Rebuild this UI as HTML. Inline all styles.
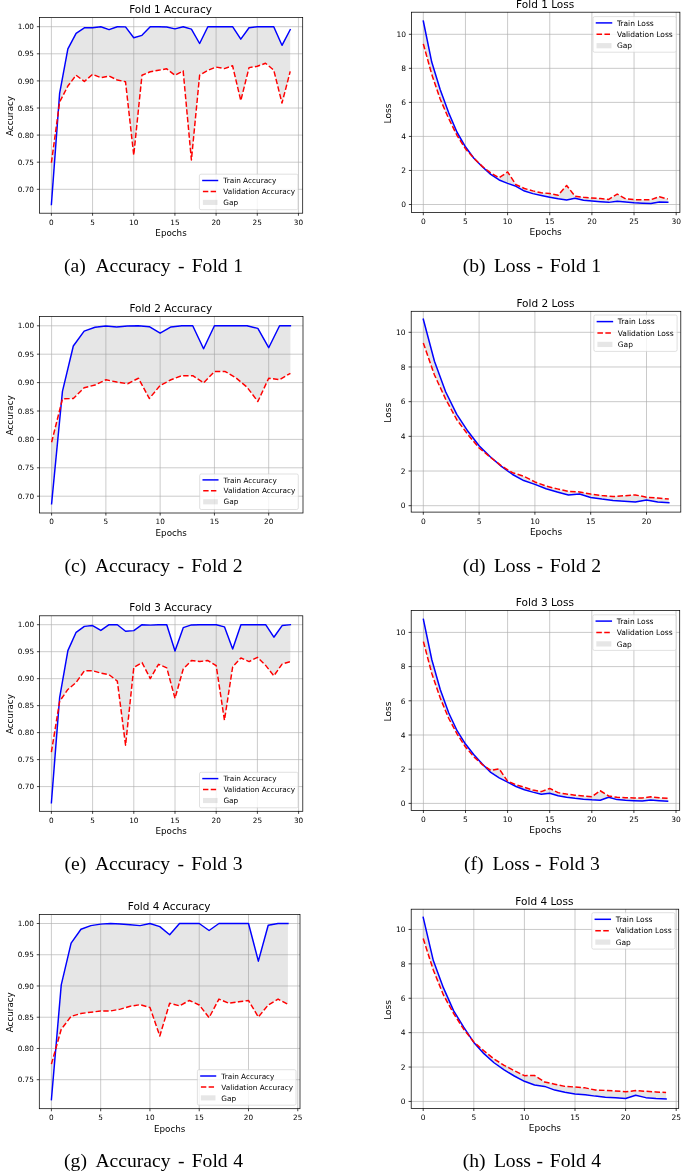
<!DOCTYPE html>
<html lang="en">
<head>
<meta charset="utf-8">
<title>Training curves per fold</title>
<style>
html,body{margin:0;padding:0;background:#fff;}
body{width:685px;height:1172px;overflow:hidden;}
svg{display:block;}
</style>
</head>
<body>
<svg width="685" height="1172" viewBox="0 0 685 1172">
<rect width="685" height="1172" fill="#fff"/>
<defs><filter id="soft" x="0" y="0" width="100%" height="100%" filterUnits="userSpaceOnUse"><feGaussianBlur stdDeviation="0.32"/></filter></defs>
<g filter="url(#soft)">
<g font-family='"DejaVu Sans","Liberation Sans",sans-serif' fill="#000">
<clipPath id="cp0"><rect x="39.4" y="17.6" width="263.3" height="195.6"/></clipPath>
<path d="M51.4 17.6V213.2M92.57 17.6V213.2M133.75 17.6V213.2M174.92 17.6V213.2M216.1 17.6V213.2M257.27 17.6V213.2M298.45 17.6V213.2M39.4 189.3H302.7M39.4 162.2H302.7M39.4 135.1H302.7M39.4 108H302.7M39.4 80.9H302.7M39.4 53.8H302.7M39.4 26.7H302.7" stroke="#b0b0b0" stroke-width="0.65" fill="none"/>
<polygon points="51.4,204.48 59.63,93.37 67.87,48.92 76.1,33.31 84.34,27.78 92.57,27.78 100.81,26.7 109.04,29.68 117.28,26.7 125.51,26.86 133.75,37.7 141.98,35.37 150.22,26.7 158.45,26.7 166.69,26.97 174.92,28.87 183.16,26.7 191.4,29.14 199.63,43.5 207.86,26.7 216.1,26.7 224.34,26.7 232.57,26.7 240.8,39.17 249.04,27.78 257.27,26.7 265.51,26.7 273.74,26.7 281.98,45.29 290.21,29.68 290.21,71.42 281.98,103.12 273.74,70.06 265.51,63.28 257.27,66.27 249.04,67.62 240.8,100.68 232.57,65.72 224.34,68.6 216.1,67.08 207.86,70.28 199.63,75.21 191.4,160.03 183.16,70.87 174.92,75.21 166.69,68.81 158.45,70.28 150.22,71.79 141.98,75.21 133.75,155.15 125.51,81.71 117.28,79.98 109.04,76.02 100.81,77.65 92.57,74.4 84.34,81.44 76.1,75.21 67.87,86.05 59.63,102.04 51.4,162.74" fill="#808080" fill-opacity="0.2" clip-path="url(#cp0)"/>
<polyline points="51.4,204.48 59.63,93.37 67.87,48.92 76.1,33.31 84.34,27.78 92.57,27.78 100.81,26.7 109.04,29.68 117.28,26.7 125.51,26.86 133.75,37.7 141.98,35.37 150.22,26.7 158.45,26.7 166.69,26.97 174.92,28.87 183.16,26.7 191.4,29.14 199.63,43.5 207.86,26.7 216.1,26.7 224.34,26.7 232.57,26.7 240.8,39.17 249.04,27.78 257.27,26.7 265.51,26.7 273.74,26.7 281.98,45.29 290.21,29.68" fill="none" stroke="#0000ff" stroke-width="1.46" stroke-linejoin="round" stroke-linecap="square"/>
<polyline points="51.4,162.74 59.63,102.04 67.87,86.05 76.1,75.21 84.34,81.44 92.57,74.4 100.81,77.65 109.04,76.02 117.28,79.98 125.51,81.71 133.75,155.15 141.98,75.21 150.22,71.79 158.45,70.28 166.69,68.81 174.92,75.21 183.16,70.87 191.4,160.03 199.63,75.21 207.86,70.28 216.1,67.08 224.34,68.6 232.57,65.72 240.8,100.68 249.04,67.62 257.27,66.27 265.51,63.28 273.74,70.06 281.98,103.12 290.21,71.42" fill="none" stroke="#ff0000" stroke-width="1.46" stroke-linejoin="round" stroke-dasharray="5.4 2.34"/>
<path d="M51.4 213.2v2.55M92.57 213.2v2.55M133.75 213.2v2.55M174.92 213.2v2.55M216.1 213.2v2.55M257.27 213.2v2.55M298.45 213.2v2.55M39.4 189.3h-2.55M39.4 162.2h-2.55M39.4 135.1h-2.55M39.4 108h-2.55M39.4 80.9h-2.55M39.4 53.8h-2.55M39.4 26.7h-2.55" stroke="#000" stroke-width="0.73" fill="none"/>
<rect x="39.4" y="17.6" width="263.3" height="195.6" fill="none" stroke="#000" stroke-width="0.73"/>
<g font-size="7.3">
<text x="51.4" y="224.6" text-anchor="middle">0</text>
<text x="92.57" y="224.6" text-anchor="middle">5</text>
<text x="133.75" y="224.6" text-anchor="middle">10</text>
<text x="174.92" y="224.6" text-anchor="middle">15</text>
<text x="216.1" y="224.6" text-anchor="middle">20</text>
<text x="257.27" y="224.6" text-anchor="middle">25</text>
<text x="298.45" y="224.6" text-anchor="middle">30</text>
<text x="33.99" y="191.93" text-anchor="end">0.70</text>
<text x="33.99" y="164.83" text-anchor="end">0.75</text>
<text x="33.99" y="137.73" text-anchor="end">0.80</text>
<text x="33.99" y="110.63" text-anchor="end">0.85</text>
<text x="33.99" y="83.53" text-anchor="end">0.90</text>
<text x="33.99" y="56.43" text-anchor="end">0.95</text>
<text x="33.99" y="29.33" text-anchor="end">1.00</text>
</g>
<text x="171.05" y="236" font-size="8.76" text-anchor="middle">Epochs</text>
<text transform="translate(12.6 116) rotate(-90)" font-size="8.76" text-anchor="middle">Accuracy</text>
<text x="170.55" y="13.2" font-size="10.47" text-anchor="middle">Fold 1 Accuracy</text>
<rect x="199.4" y="174.2" width="98.6" height="35.5" rx="1.61" fill="#fff" fill-opacity="0.8" stroke="#ccc" stroke-opacity="0.8" stroke-width="0.73"/>
<path d="M202.9 180.5H217.5" stroke="#0000ff" stroke-width="1.46" stroke-linecap="square"/>
<path d="M202.9 191.45H217.5" stroke="#ff0000" stroke-width="1.46" stroke-dasharray="5.4 2.34"/>
<rect x="202.9" y="199.84" width="14.6" height="5.11" fill="#808080" fill-opacity="0.2"/>
<g font-size="7.3">
<text x="223.3" y="183.13">Train Accuracy</text>
<text x="223.3" y="194.08">Validation Accuracy</text>
<text x="223.3" y="205.03">Gap</text>
</g>
</g>
<g font-family='"DejaVu Sans","Liberation Sans",sans-serif' fill="#000">
<clipPath id="cp1"><rect x="411.5" y="12.2" width="268.4" height="200.4"/></clipPath>
<path d="M423.3 12.2V212.6M465.45 12.2V212.6M507.6 12.2V212.6M549.75 12.2V212.6M591.9 12.2V212.6M634.05 12.2V212.6M676.2 12.2V212.6M411.5 204.5H679.9M411.5 170.46H679.9M411.5 136.42H679.9M411.5 102.38H679.9M411.5 68.34H679.9M411.5 34.3H679.9" stroke="#b0b0b0" stroke-width="0.67" fill="none"/>
<polygon points="423.3,21.02 431.73,62.04 440.16,89.44 448.59,112.59 457.02,132.25 465.45,146.8 473.88,158.21 482.31,166.72 490.74,174.37 499.17,179.99 507.6,183.4 516.03,186.29 524.46,191.05 532.89,193.61 541.32,195.48 549.75,197.18 558.18,198.8 566.61,199.9 575.04,198.2 583.47,200.25 591.9,201.1 600.33,201.78 608.76,202.37 617.19,201.27 625.62,202.12 634.05,202.8 642.48,203.22 650.91,203.48 659.34,201.95 667.77,202.12 667.77,199.05 659.34,196.67 650.91,199.65 642.48,199.9 634.05,199.65 625.62,198.8 617.19,194.12 608.76,199.39 600.33,198.54 591.9,197.95 583.47,197.35 575.04,196.25 566.61,185.44 558.18,195.14 549.75,193.52 541.32,192.76 532.89,190.88 524.46,188.5 516.03,184.76 507.6,171.99 499.17,177.78 490.74,173.01 482.31,166.38 473.88,158.21 465.45,148.67 457.02,135.4 448.59,118.38 440.16,98.98 431.73,74.3 423.3,43.83" fill="#808080" fill-opacity="0.2" clip-path="url(#cp1)"/>
<polyline points="423.3,21.02 431.73,62.04 440.16,89.44 448.59,112.59 457.02,132.25 465.45,146.8 473.88,158.21 482.31,166.72 490.74,174.37 499.17,179.99 507.6,183.4 516.03,186.29 524.46,191.05 532.89,193.61 541.32,195.48 549.75,197.18 558.18,198.8 566.61,199.9 575.04,198.2 583.47,200.25 591.9,201.1 600.33,201.78 608.76,202.37 617.19,201.27 625.62,202.12 634.05,202.8 642.48,203.22 650.91,203.48 659.34,201.95 667.77,202.12" fill="none" stroke="#0000ff" stroke-width="1.5" stroke-linejoin="round" stroke-linecap="square"/>
<polyline points="423.3,43.83 431.73,74.3 440.16,98.98 448.59,118.38 457.02,135.4 465.45,148.67 473.88,158.21 482.31,166.38 490.74,173.01 499.17,177.78 507.6,171.99 516.03,184.76 524.46,188.5 532.89,190.88 541.32,192.76 549.75,193.52 558.18,195.14 566.61,185.44 575.04,196.25 583.47,197.35 591.9,197.95 600.33,198.54 608.76,199.39 617.19,194.12 625.62,198.8 634.05,199.65 642.48,199.9 650.91,199.65 659.34,196.67 667.77,199.05" fill="none" stroke="#ff0000" stroke-width="1.5" stroke-linejoin="round" stroke-dasharray="5.55 2.4"/>
<path d="M423.3 212.6v2.62M465.45 212.6v2.62M507.6 212.6v2.62M549.75 212.6v2.62M591.9 212.6v2.62M634.05 212.6v2.62M676.2 212.6v2.62M411.5 204.5h-2.62M411.5 170.46h-2.62M411.5 136.42h-2.62M411.5 102.38h-2.62M411.5 68.34h-2.62M411.5 34.3h-2.62" stroke="#000" stroke-width="0.75" fill="none"/>
<rect x="411.5" y="12.2" width="268.4" height="200.4" fill="none" stroke="#000" stroke-width="0.75"/>
<g font-size="7.5">
<text x="423.3" y="224" text-anchor="middle">0</text>
<text x="465.45" y="224" text-anchor="middle">5</text>
<text x="507.6" y="224" text-anchor="middle">10</text>
<text x="549.75" y="224" text-anchor="middle">15</text>
<text x="591.9" y="224" text-anchor="middle">20</text>
<text x="634.05" y="224" text-anchor="middle">25</text>
<text x="676.2" y="224" text-anchor="middle">30</text>
<text x="405.95" y="207.2" text-anchor="end">0</text>
<text x="405.95" y="173.16" text-anchor="end">2</text>
<text x="405.95" y="139.12" text-anchor="end">4</text>
<text x="405.95" y="105.08" text-anchor="end">6</text>
<text x="405.95" y="71.04" text-anchor="end">8</text>
<text x="405.95" y="37" text-anchor="end">10</text>
</g>
<text x="545.7" y="235.4" font-size="9" text-anchor="middle">Epochs</text>
<text transform="translate(391.3 113.5) rotate(-90)" font-size="9" text-anchor="middle">Loss</text>
<text x="545.2" y="7.8" font-size="10.53" text-anchor="middle">Fold 1 Loss</text>
<rect x="593" y="16.6" width="83.2" height="35.6" rx="1.65" fill="#fff" fill-opacity="0.8" stroke="#ccc" stroke-opacity="0.8" stroke-width="0.75"/>
<path d="M596.5 22.9H611.5" stroke="#0000ff" stroke-width="1.5" stroke-linecap="square"/>
<path d="M596.5 34.3H611.5" stroke="#ff0000" stroke-width="1.5" stroke-dasharray="5.55 2.4"/>
<rect x="596.5" y="43.08" width="15" height="5.25" fill="#808080" fill-opacity="0.2"/>
<g font-size="7.5">
<text x="616.9" y="25.6">Train Loss</text>
<text x="616.9" y="37">Validation Loss</text>
<text x="616.9" y="48.4">Gap</text>
</g>
</g>
<g font-family='"DejaVu Sans","Liberation Sans",sans-serif' fill="#000">
<clipPath id="cp2"><rect x="39.5" y="316.5" width="263.5" height="196.5"/></clipPath>
<path d="M51.6 316.5V513M105.88 316.5V513M160.15 316.5V513M214.43 316.5V513M268.7 316.5V513M39.5 496.2H303M39.5 467.8H303M39.5 439.4H303M39.5 411H303M39.5 382.6H303M39.5 354.2H303M39.5 325.8H303" stroke="#b0b0b0" stroke-width="0.65" fill="none"/>
<polygon points="51.6,503.81 62.45,391.4 73.31,346.02 84.16,331.14 95.02,327.28 105.88,326.03 116.73,326.94 127.59,326.03 138.44,325.8 149.3,326.65 160.15,333.18 171,326.94 181.86,325.8 192.72,325.8 203.57,348.8 214.43,325.8 225.28,325.8 236.13,325.8 246.99,325.8 257.85,328.36 268.7,347.72 279.56,325.8 290.41,325.8 290.41,373.28 279.56,379.76 268.7,378.23 257.85,401.46 246.99,387.14 236.13,378.06 225.28,371.58 214.43,371.58 203.57,382.88 192.72,375.67 181.86,375.67 171,379.76 160.15,385.44 149.3,398.5 138.44,378.23 127.59,383.74 116.73,382.03 105.88,379.76 95.02,385.04 84.16,387.71 73.31,398.5 62.45,398.9 51.6,442.24" fill="#808080" fill-opacity="0.2" clip-path="url(#cp2)"/>
<polyline points="51.6,503.81 62.45,391.4 73.31,346.02 84.16,331.14 95.02,327.28 105.88,326.03 116.73,326.94 127.59,326.03 138.44,325.8 149.3,326.65 160.15,333.18 171,326.94 181.86,325.8 192.72,325.8 203.57,348.8 214.43,325.8 225.28,325.8 236.13,325.8 246.99,325.8 257.85,328.36 268.7,347.72 279.56,325.8 290.41,325.8" fill="none" stroke="#0000ff" stroke-width="1.46" stroke-linejoin="round" stroke-linecap="square"/>
<polyline points="51.6,442.24 62.45,398.9 73.31,398.5 84.16,387.71 95.02,385.04 105.88,379.76 116.73,382.03 127.59,383.74 138.44,378.23 149.3,398.5 160.15,385.44 171,379.76 181.86,375.67 192.72,375.67 203.57,382.88 214.43,371.58 225.28,371.58 236.13,378.06 246.99,387.14 257.85,401.46 268.7,378.23 279.56,379.76 290.41,373.28" fill="none" stroke="#ff0000" stroke-width="1.46" stroke-linejoin="round" stroke-dasharray="5.4 2.34"/>
<path d="M51.6 513v2.55M105.88 513v2.55M160.15 513v2.55M214.43 513v2.55M268.7 513v2.55M39.5 496.2h-2.55M39.5 467.8h-2.55M39.5 439.4h-2.55M39.5 411h-2.55M39.5 382.6h-2.55M39.5 354.2h-2.55M39.5 325.8h-2.55" stroke="#000" stroke-width="0.73" fill="none"/>
<rect x="39.5" y="316.5" width="263.5" height="196.5" fill="none" stroke="#000" stroke-width="0.73"/>
<g font-size="7.3">
<text x="51.6" y="524.4" text-anchor="middle">0</text>
<text x="105.88" y="524.4" text-anchor="middle">5</text>
<text x="160.15" y="524.4" text-anchor="middle">10</text>
<text x="214.43" y="524.4" text-anchor="middle">15</text>
<text x="268.7" y="524.4" text-anchor="middle">20</text>
<text x="34.09" y="498.83" text-anchor="end">0.70</text>
<text x="34.09" y="470.43" text-anchor="end">0.75</text>
<text x="34.09" y="442.03" text-anchor="end">0.80</text>
<text x="34.09" y="413.63" text-anchor="end">0.85</text>
<text x="34.09" y="385.23" text-anchor="end">0.90</text>
<text x="34.09" y="356.83" text-anchor="end">0.95</text>
<text x="34.09" y="328.43" text-anchor="end">1.00</text>
</g>
<text x="171.25" y="535.8" font-size="8.76" text-anchor="middle">Epochs</text>
<text transform="translate(12.6 415.35) rotate(-90)" font-size="8.76" text-anchor="middle">Accuracy</text>
<text x="170.75" y="312.1" font-size="10.47" text-anchor="middle">Fold 2 Accuracy</text>
<rect x="199.7" y="474" width="98.6" height="35.5" rx="1.61" fill="#fff" fill-opacity="0.8" stroke="#ccc" stroke-opacity="0.8" stroke-width="0.73"/>
<path d="M203.2 479.9H217.8" stroke="#0000ff" stroke-width="1.46" stroke-linecap="square"/>
<path d="M203.2 490.85H217.8" stroke="#ff0000" stroke-width="1.46" stroke-dasharray="5.4 2.34"/>
<rect x="203.2" y="499.24" width="14.6" height="5.11" fill="#808080" fill-opacity="0.2"/>
<g font-size="7.3">
<text x="223.6" y="482.53">Train Accuracy</text>
<text x="223.6" y="493.48">Validation Accuracy</text>
<text x="223.6" y="504.43">Gap</text>
</g>
</g>
<g font-family='"DejaVu Sans","Liberation Sans",sans-serif' fill="#000">
<clipPath id="cp3"><rect x="411.2" y="311.3" width="269.6" height="200.8"/></clipPath>
<path d="M423.3 311.3V512.1M479.1 311.3V512.1M534.9 311.3V512.1M590.7 311.3V512.1M646.5 311.3V512.1M411.2 505.7H680.8M411.2 471.02H680.8M411.2 436.34H680.8M411.2 401.66H680.8M411.2 366.98H680.8M411.2 332.3H680.8" stroke="#b0b0b0" stroke-width="0.67" fill="none"/>
<polygon points="423.3,319.29 434.46,361.26 445.62,391.78 456.78,414.32 467.94,431.31 479.1,445.7 490.26,456.8 501.42,466.34 512.58,474.49 523.74,480.56 534.9,484.37 546.06,488.79 557.22,492 568.38,494.95 579.54,494.08 590.7,497.43 601.86,499.11 613.02,500.41 624.18,501.24 635.34,501.89 646.5,499.98 657.66,502.09 668.82,502.75 668.82,498.94 657.66,498.07 646.5,497.2 635.34,494.9 624.18,495.73 613.02,496.58 601.86,495.52 590.7,494.08 579.54,491.91 568.38,491.48 557.22,488.88 546.06,486.11 534.9,481.94 523.74,476.22 512.58,472.75 501.42,465.82 490.26,457.15 479.1,447.96 467.94,434.61 456.78,419.69 445.62,399.06 434.46,374.96 423.3,342.88" fill="#808080" fill-opacity="0.2" clip-path="url(#cp3)"/>
<polyline points="423.3,319.29 434.46,361.26 445.62,391.78 456.78,414.32 467.94,431.31 479.1,445.7 490.26,456.8 501.42,466.34 512.58,474.49 523.74,480.56 534.9,484.37 546.06,488.79 557.22,492 568.38,494.95 579.54,494.08 590.7,497.43 601.86,499.11 613.02,500.41 624.18,501.24 635.34,501.89 646.5,499.98 657.66,502.09 668.82,502.75" fill="none" stroke="#0000ff" stroke-width="1.5" stroke-linejoin="round" stroke-linecap="square"/>
<polyline points="423.3,342.88 434.46,374.96 445.62,399.06 456.78,419.69 467.94,434.61 479.1,447.96 490.26,457.15 501.42,465.82 512.58,472.75 523.74,476.22 534.9,481.94 546.06,486.11 557.22,488.88 568.38,491.48 579.54,491.91 590.7,494.08 601.86,495.52 613.02,496.58 624.18,495.73 635.34,494.9 646.5,497.2 657.66,498.07 668.82,498.94" fill="none" stroke="#ff0000" stroke-width="1.5" stroke-linejoin="round" stroke-dasharray="5.55 2.4"/>
<path d="M423.3 512.1v2.62M479.1 512.1v2.62M534.9 512.1v2.62M590.7 512.1v2.62M646.5 512.1v2.62M411.2 505.7h-2.62M411.2 471.02h-2.62M411.2 436.34h-2.62M411.2 401.66h-2.62M411.2 366.98h-2.62M411.2 332.3h-2.62" stroke="#000" stroke-width="0.75" fill="none"/>
<rect x="411.2" y="311.3" width="269.6" height="200.8" fill="none" stroke="#000" stroke-width="0.75"/>
<g font-size="7.5">
<text x="423.3" y="523.5" text-anchor="middle">0</text>
<text x="479.1" y="523.5" text-anchor="middle">5</text>
<text x="534.9" y="523.5" text-anchor="middle">10</text>
<text x="590.7" y="523.5" text-anchor="middle">15</text>
<text x="646.5" y="523.5" text-anchor="middle">20</text>
<text x="405.65" y="508.4" text-anchor="end">0</text>
<text x="405.65" y="473.72" text-anchor="end">2</text>
<text x="405.65" y="439.04" text-anchor="end">4</text>
<text x="405.65" y="404.36" text-anchor="end">6</text>
<text x="405.65" y="369.68" text-anchor="end">8</text>
<text x="405.65" y="335" text-anchor="end">10</text>
</g>
<text x="546" y="534.9" font-size="9" text-anchor="middle">Epochs</text>
<text transform="translate(391.3 412.8) rotate(-90)" font-size="9" text-anchor="middle">Loss</text>
<text x="545.5" y="306.9" font-size="10.53" text-anchor="middle">Fold 2 Loss</text>
<rect x="593.9" y="315" width="83.2" height="36.4" rx="1.65" fill="#fff" fill-opacity="0.8" stroke="#ccc" stroke-opacity="0.8" stroke-width="0.75"/>
<path d="M597.4 321.6H612.4" stroke="#0000ff" stroke-width="1.5" stroke-linecap="square"/>
<path d="M597.4 333H612.4" stroke="#ff0000" stroke-width="1.5" stroke-dasharray="5.55 2.4"/>
<rect x="597.4" y="341.77" width="15" height="5.25" fill="#808080" fill-opacity="0.2"/>
<g font-size="7.5">
<text x="617.8" y="324.3">Train Loss</text>
<text x="617.8" y="335.7">Validation Loss</text>
<text x="617.8" y="347.1">Gap</text>
</g>
</g>
<g font-family='"DejaVu Sans","Liberation Sans",sans-serif' fill="#000">
<clipPath id="cp4"><rect x="39.5" y="615.8" width="263.3" height="195.5"/></clipPath>
<path d="M51.4 615.8V811.3M92.6 615.8V811.3M133.8 615.8V811.3M175 615.8V811.3M216.2 615.8V811.3M257.4 615.8V811.3M298.6 615.8V811.3M39.5 786.58H302.8M39.5 759.6H302.8M39.5 732.62H302.8M39.5 705.64H302.8M39.5 678.66H302.8M39.5 651.68H302.8M39.5 624.7H302.8" stroke="#b0b0b0" stroke-width="0.65" fill="none"/>
<polygon points="51.4,802.77 59.64,697.55 67.88,650.6 76.12,632.31 84.36,626.37 92.6,625.56 100.84,630.42 109.08,624.7 117.32,624.7 125.56,631.28 133.8,630.64 142.04,624.7 150.28,625.13 158.52,624.7 166.76,624.7 175,650.98 183.24,627.67 191.48,624.92 199.72,624.7 207.96,624.7 216.2,624.7 224.44,626.86 232.68,648.98 240.92,624.7 249.16,624.7 257.4,624.7 265.64,624.7 273.88,637.22 282.12,625.56 290.36,624.7 290.36,661.55 282.12,664.09 273.88,675.8 265.64,665.39 257.4,657.35 249.16,661.55 240.92,657.99 232.68,666.79 224.44,720.21 216.2,665.71 207.96,660.53 199.72,661.55 191.48,660.53 183.24,668.95 175,698.36 166.76,667.87 158.52,664.31 150.28,678.55 142.04,662.63 133.8,667.49 125.56,745.19 117.32,681.09 109.08,674.72 100.84,673.05 92.6,670.67 84.36,670.89 76.12,682.44 67.88,689.45 59.64,701.32 51.4,752.05" fill="#808080" fill-opacity="0.2" clip-path="url(#cp4)"/>
<polyline points="51.4,802.77 59.64,697.55 67.88,650.6 76.12,632.31 84.36,626.37 92.6,625.56 100.84,630.42 109.08,624.7 117.32,624.7 125.56,631.28 133.8,630.64 142.04,624.7 150.28,625.13 158.52,624.7 166.76,624.7 175,650.98 183.24,627.67 191.48,624.92 199.72,624.7 207.96,624.7 216.2,624.7 224.44,626.86 232.68,648.98 240.92,624.7 249.16,624.7 257.4,624.7 265.64,624.7 273.88,637.22 282.12,625.56 290.36,624.7" fill="none" stroke="#0000ff" stroke-width="1.46" stroke-linejoin="round" stroke-linecap="square"/>
<polyline points="51.4,752.05 59.64,701.32 67.88,689.45 76.12,682.44 84.36,670.89 92.6,670.67 100.84,673.05 109.08,674.72 117.32,681.09 125.56,745.19 133.8,667.49 142.04,662.63 150.28,678.55 158.52,664.31 166.76,667.87 175,698.36 183.24,668.95 191.48,660.53 199.72,661.55 207.96,660.53 216.2,665.71 224.44,720.21 232.68,666.79 240.92,657.99 249.16,661.55 257.4,657.35 265.64,665.39 273.88,675.8 282.12,664.09 290.36,661.55" fill="none" stroke="#ff0000" stroke-width="1.46" stroke-linejoin="round" stroke-dasharray="5.4 2.34"/>
<path d="M51.4 811.3v2.55M92.6 811.3v2.55M133.8 811.3v2.55M175 811.3v2.55M216.2 811.3v2.55M257.4 811.3v2.55M298.6 811.3v2.55M39.5 786.58h-2.55M39.5 759.6h-2.55M39.5 732.62h-2.55M39.5 705.64h-2.55M39.5 678.66h-2.55M39.5 651.68h-2.55M39.5 624.7h-2.55" stroke="#000" stroke-width="0.73" fill="none"/>
<rect x="39.5" y="615.8" width="263.3" height="195.5" fill="none" stroke="#000" stroke-width="0.73"/>
<g font-size="7.3">
<text x="51.4" y="822.7" text-anchor="middle">0</text>
<text x="92.6" y="822.7" text-anchor="middle">5</text>
<text x="133.8" y="822.7" text-anchor="middle">10</text>
<text x="175" y="822.7" text-anchor="middle">15</text>
<text x="216.2" y="822.7" text-anchor="middle">20</text>
<text x="257.4" y="822.7" text-anchor="middle">25</text>
<text x="298.6" y="822.7" text-anchor="middle">30</text>
<text x="34.09" y="789.21" text-anchor="end">0.70</text>
<text x="34.09" y="762.23" text-anchor="end">0.75</text>
<text x="34.09" y="735.25" text-anchor="end">0.80</text>
<text x="34.09" y="708.27" text-anchor="end">0.85</text>
<text x="34.09" y="681.29" text-anchor="end">0.90</text>
<text x="34.09" y="654.31" text-anchor="end">0.95</text>
<text x="34.09" y="627.33" text-anchor="end">1.00</text>
</g>
<text x="171.15" y="834.1" font-size="8.76" text-anchor="middle">Epochs</text>
<text transform="translate(12.6 714.15) rotate(-90)" font-size="8.76" text-anchor="middle">Accuracy</text>
<text x="170.65" y="611.4" font-size="10.47" text-anchor="middle">Fold 3 Accuracy</text>
<rect x="199.5" y="772.3" width="98.6" height="35.5" rx="1.61" fill="#fff" fill-opacity="0.8" stroke="#ccc" stroke-opacity="0.8" stroke-width="0.73"/>
<path d="M203 778.6H217.6" stroke="#0000ff" stroke-width="1.46" stroke-linecap="square"/>
<path d="M203 789.55H217.6" stroke="#ff0000" stroke-width="1.46" stroke-dasharray="5.4 2.34"/>
<rect x="203" y="797.95" width="14.6" height="5.11" fill="#808080" fill-opacity="0.2"/>
<g font-size="7.3">
<text x="223.4" y="781.23">Train Accuracy</text>
<text x="223.4" y="792.18">Validation Accuracy</text>
<text x="223.4" y="803.13">Gap</text>
</g>
</g>
<g font-family='"DejaVu Sans","Liberation Sans",sans-serif' fill="#000">
<clipPath id="cp5"><rect x="411.2" y="610.4" width="268.5" height="200"/></clipPath>
<path d="M423.4 610.4V810.4M465.5 610.4V810.4M507.6 610.4V810.4M549.7 610.4V810.4M591.8 610.4V810.4M633.9 610.4V810.4M676 610.4V810.4M411.2 803.4H679.7M411.2 769.2H679.7M411.2 735H679.7M411.2 700.8H679.7M411.2 666.6H679.7M411.2 632.4H679.7" stroke="#b0b0b0" stroke-width="0.67" fill="none"/>
<polygon points="423.4,619.4 431.82,659.76 440.24,689.51 448.66,712.77 457.08,730.72 465.5,744.06 473.92,754.66 482.34,764.07 490.76,772.45 499.18,777.92 507.6,782.2 516.02,786.47 524.44,789.72 532.86,792.11 541.28,794.25 549.7,793.31 558.12,795.7 566.54,797.28 574.96,798.34 583.38,799.18 591.8,799.81 600.22,800.24 608.64,797.28 617.06,799.6 625.48,800.24 633.9,800.66 642.32,801.07 650.74,800.01 659.16,800.66 667.58,801.3 667.58,798.34 659.16,797.71 650.74,796.85 642.32,797.93 633.9,797.93 625.48,797.71 617.06,797.28 608.64,796.01 600.22,790.75 591.8,796.85 583.38,796.01 574.96,795.19 566.54,794.11 558.12,792.63 549.7,788.44 541.28,791.6 532.86,790.06 524.44,787.33 516.02,784.76 507.6,781.17 499.18,768.86 490.76,770.4 482.34,764.58 473.92,756.89 465.5,746.97 457.08,733.97 448.66,718.24 440.24,698.06 431.82,673.44 423.4,641.63" fill="#808080" fill-opacity="0.2" clip-path="url(#cp5)"/>
<polyline points="423.4,619.4 431.82,659.76 440.24,689.51 448.66,712.77 457.08,730.72 465.5,744.06 473.92,754.66 482.34,764.07 490.76,772.45 499.18,777.92 507.6,782.2 516.02,786.47 524.44,789.72 532.86,792.11 541.28,794.25 549.7,793.31 558.12,795.7 566.54,797.28 574.96,798.34 583.38,799.18 591.8,799.81 600.22,800.24 608.64,797.28 617.06,799.6 625.48,800.24 633.9,800.66 642.32,801.07 650.74,800.01 659.16,800.66 667.58,801.3" fill="none" stroke="#0000ff" stroke-width="1.5" stroke-linejoin="round" stroke-linecap="square"/>
<polyline points="423.4,641.63 431.82,673.44 440.24,698.06 448.66,718.24 457.08,733.97 465.5,746.97 473.92,756.89 482.34,764.58 490.76,770.4 499.18,768.86 507.6,781.17 516.02,784.76 524.44,787.33 532.86,790.06 541.28,791.6 549.7,788.44 558.12,792.63 566.54,794.11 574.96,795.19 583.38,796.01 591.8,796.85 600.22,790.75 608.64,796.01 617.06,797.28 625.48,797.71 633.9,797.93 642.32,797.93 650.74,796.85 659.16,797.71 667.58,798.34" fill="none" stroke="#ff0000" stroke-width="1.5" stroke-linejoin="round" stroke-dasharray="5.55 2.4"/>
<path d="M423.4 810.4v2.62M465.5 810.4v2.62M507.6 810.4v2.62M549.7 810.4v2.62M591.8 810.4v2.62M633.9 810.4v2.62M676 810.4v2.62M411.2 803.4h-2.62M411.2 769.2h-2.62M411.2 735h-2.62M411.2 700.8h-2.62M411.2 666.6h-2.62M411.2 632.4h-2.62" stroke="#000" stroke-width="0.75" fill="none"/>
<rect x="411.2" y="610.4" width="268.5" height="200" fill="none" stroke="#000" stroke-width="0.75"/>
<g font-size="7.5">
<text x="423.4" y="821.8" text-anchor="middle">0</text>
<text x="465.5" y="821.8" text-anchor="middle">5</text>
<text x="507.6" y="821.8" text-anchor="middle">10</text>
<text x="549.7" y="821.8" text-anchor="middle">15</text>
<text x="591.8" y="821.8" text-anchor="middle">20</text>
<text x="633.9" y="821.8" text-anchor="middle">25</text>
<text x="676" y="821.8" text-anchor="middle">30</text>
<text x="405.65" y="806.1" text-anchor="end">0</text>
<text x="405.65" y="771.9" text-anchor="end">2</text>
<text x="405.65" y="737.7" text-anchor="end">4</text>
<text x="405.65" y="703.5" text-anchor="end">6</text>
<text x="405.65" y="669.3" text-anchor="end">8</text>
<text x="405.65" y="635.1" text-anchor="end">10</text>
</g>
<text x="545.45" y="833.2" font-size="9" text-anchor="middle">Epochs</text>
<text transform="translate(391.3 711.5) rotate(-90)" font-size="9" text-anchor="middle">Loss</text>
<text x="544.95" y="606" font-size="10.53" text-anchor="middle">Fold 3 Loss</text>
<rect x="592.8" y="614.8" width="83.2" height="35.6" rx="1.65" fill="#fff" fill-opacity="0.8" stroke="#ccc" stroke-opacity="0.8" stroke-width="0.75"/>
<path d="M596.3 621.1H611.3" stroke="#0000ff" stroke-width="1.5" stroke-linecap="square"/>
<path d="M596.3 632.5H611.3" stroke="#ff0000" stroke-width="1.5" stroke-dasharray="5.55 2.4"/>
<rect x="596.3" y="641.27" width="15" height="5.25" fill="#808080" fill-opacity="0.2"/>
<g font-size="7.5">
<text x="616.7" y="623.8">Train Loss</text>
<text x="616.7" y="635.2">Validation Loss</text>
<text x="616.7" y="646.6">Gap</text>
</g>
</g>
<g font-family='"DejaVu Sans","Liberation Sans",sans-serif' fill="#000">
<clipPath id="cp6"><rect x="39.3" y="914.6" width="260.7" height="194.1"/></clipPath>
<path d="M51.4 914.6V1108.7M100.68 914.6V1108.7M149.95 914.6V1108.7M199.23 914.6V1108.7M248.5 914.6V1108.7M297.77 914.6V1108.7M39.3 1079.7H300M39.3 1048.46H300M39.3 1017.22H300M39.3 985.98H300M39.3 954.74H300M39.3 923.5H300" stroke="#b0b0b0" stroke-width="0.65" fill="none"/>
<polygon points="51.4,1099.69 61.25,984.92 71.11,943.18 80.97,929.25 90.82,925.62 100.68,924.12 110.53,923.5 120.38,923.94 130.24,924.75 140.09,925.62 149.95,923.5 159.81,926.62 169.66,934.75 179.52,923.5 189.37,923.5 199.23,923.5 209.08,930.5 218.94,923.5 228.79,923.5 238.65,923.5 248.5,923.5 258.36,961.18 268.21,925.19 278.06,923.5 287.92,923.5 287.92,1004.29 278.06,999.1 268.21,1004.97 258.36,1017.03 248.5,1000.48 238.65,1001.79 228.79,1003.22 218.94,999.1 209.08,1017.66 199.23,1004.97 189.37,1000.48 179.52,1005.79 169.66,1003.22 159.81,1035.96 149.95,1007.47 140.09,1004.72 130.24,1006.22 120.38,1009.1 110.53,1010.97 100.68,1010.97 90.82,1012.22 80.97,1013.47 71.11,1016.35 61.25,1029.28 51.4,1064.08" fill="#808080" fill-opacity="0.2" clip-path="url(#cp6)"/>
<polyline points="51.4,1099.69 61.25,984.92 71.11,943.18 80.97,929.25 90.82,925.62 100.68,924.12 110.53,923.5 120.38,923.94 130.24,924.75 140.09,925.62 149.95,923.5 159.81,926.62 169.66,934.75 179.52,923.5 189.37,923.5 199.23,923.5 209.08,930.5 218.94,923.5 228.79,923.5 238.65,923.5 248.5,923.5 258.36,961.18 268.21,925.19 278.06,923.5 287.92,923.5" fill="none" stroke="#0000ff" stroke-width="1.46" stroke-linejoin="round" stroke-linecap="square"/>
<polyline points="51.4,1064.08 61.25,1029.28 71.11,1016.35 80.97,1013.47 90.82,1012.22 100.68,1010.97 110.53,1010.97 120.38,1009.1 130.24,1006.22 140.09,1004.72 149.95,1007.47 159.81,1035.96 169.66,1003.22 179.52,1005.79 189.37,1000.48 199.23,1004.97 209.08,1017.66 218.94,999.1 228.79,1003.22 238.65,1001.79 248.5,1000.48 258.36,1017.03 268.21,1004.97 278.06,999.1 287.92,1004.29" fill="none" stroke="#ff0000" stroke-width="1.46" stroke-linejoin="round" stroke-dasharray="5.4 2.34"/>
<path d="M51.4 1108.7v2.55M100.68 1108.7v2.55M149.95 1108.7v2.55M199.23 1108.7v2.55M248.5 1108.7v2.55M297.77 1108.7v2.55M39.3 1079.7h-2.55M39.3 1048.46h-2.55M39.3 1017.22h-2.55M39.3 985.98h-2.55M39.3 954.74h-2.55M39.3 923.5h-2.55" stroke="#000" stroke-width="0.73" fill="none"/>
<rect x="39.3" y="914.6" width="260.7" height="194.1" fill="none" stroke="#000" stroke-width="0.73"/>
<g font-size="7.3">
<text x="51.4" y="1120.1" text-anchor="middle">0</text>
<text x="100.68" y="1120.1" text-anchor="middle">5</text>
<text x="149.95" y="1120.1" text-anchor="middle">10</text>
<text x="199.23" y="1120.1" text-anchor="middle">15</text>
<text x="248.5" y="1120.1" text-anchor="middle">20</text>
<text x="297.77" y="1120.1" text-anchor="middle">25</text>
<text x="33.89" y="1082.33" text-anchor="end">0.75</text>
<text x="33.89" y="1051.09" text-anchor="end">0.80</text>
<text x="33.89" y="1019.85" text-anchor="end">0.85</text>
<text x="33.89" y="988.61" text-anchor="end">0.90</text>
<text x="33.89" y="957.37" text-anchor="end">0.95</text>
<text x="33.89" y="926.13" text-anchor="end">1.00</text>
</g>
<text x="169.65" y="1131.5" font-size="8.76" text-anchor="middle">Epochs</text>
<text transform="translate(12.6 1012.25) rotate(-90)" font-size="8.76" text-anchor="middle">Accuracy</text>
<text x="169.15" y="910.2" font-size="10.47" text-anchor="middle">Fold 4 Accuracy</text>
<rect x="197.4" y="1069.7" width="98.6" height="35.5" rx="1.61" fill="#fff" fill-opacity="0.8" stroke="#ccc" stroke-opacity="0.8" stroke-width="0.73"/>
<path d="M200.9 1076H215.5" stroke="#0000ff" stroke-width="1.46" stroke-linecap="square"/>
<path d="M200.9 1086.95H215.5" stroke="#ff0000" stroke-width="1.46" stroke-dasharray="5.4 2.34"/>
<rect x="200.9" y="1095.35" width="14.6" height="5.11" fill="#808080" fill-opacity="0.2"/>
<g font-size="7.3">
<text x="221.3" y="1078.63">Train Accuracy</text>
<text x="221.3" y="1089.58">Validation Accuracy</text>
<text x="221.3" y="1100.53">Gap</text>
</g>
</g>
<g font-family='"DejaVu Sans","Liberation Sans",sans-serif' fill="#000">
<clipPath id="cp7"><rect x="411.2" y="909.2" width="267.5" height="199.2"/></clipPath>
<path d="M423.2 909.2V1108.4M473.8 909.2V1108.4M524.4 909.2V1108.4M575 909.2V1108.4M625.6 909.2V1108.4M676.2 909.2V1108.4M411.2 1101.45H678.7M411.2 1067.05H678.7M411.2 1032.65H678.7M411.2 998.25H678.7M411.2 963.85H678.7M411.2 929.45H678.7" stroke="#b0b0b0" stroke-width="0.67" fill="none"/>
<polygon points="423.2,917.41 433.32,960.58 443.44,987.93 453.56,1010.63 463.68,1027.15 473.8,1042.45 483.92,1053.63 494.04,1062.75 504.16,1069.97 514.28,1075.99 524.4,1081.33 534.52,1084.94 544.64,1086.4 554.76,1090.1 564.88,1092.33 575,1094.05 585.12,1094.66 595.24,1096.12 605.36,1097.2 615.48,1097.84 625.6,1098.47 635.72,1095.29 645.84,1097.63 655.96,1098.47 666.08,1098.9 666.08,1092.51 655.96,1091.89 645.84,1091.25 635.72,1090.61 625.6,1091.68 615.48,1091.04 605.36,1090.41 595.24,1089.98 585.12,1087.86 575,1087 564.88,1086.37 554.76,1084.25 544.64,1082.01 534.52,1075.48 524.4,1075.65 514.28,1070.66 504.16,1065.33 494.04,1058.97 483.92,1050.88 473.8,1041.94 463.68,1029.21 453.56,1013.39 443.44,994.98 433.32,970.04 423.2,938.57" fill="#808080" fill-opacity="0.2" clip-path="url(#cp7)"/>
<polyline points="423.2,917.41 433.32,960.58 443.44,987.93 453.56,1010.63 463.68,1027.15 473.8,1042.45 483.92,1053.63 494.04,1062.75 504.16,1069.97 514.28,1075.99 524.4,1081.33 534.52,1084.94 544.64,1086.4 554.76,1090.1 564.88,1092.33 575,1094.05 585.12,1094.66 595.24,1096.12 605.36,1097.2 615.48,1097.84 625.6,1098.47 635.72,1095.29 645.84,1097.63 655.96,1098.47 666.08,1098.9" fill="none" stroke="#0000ff" stroke-width="1.5" stroke-linejoin="round" stroke-linecap="square"/>
<polyline points="423.2,938.57 433.32,970.04 443.44,994.98 453.56,1013.39 463.68,1029.21 473.8,1041.94 483.92,1050.88 494.04,1058.97 504.16,1065.33 514.28,1070.66 524.4,1075.65 534.52,1075.48 544.64,1082.01 554.76,1084.25 564.88,1086.37 575,1087 585.12,1087.86 595.24,1089.98 605.36,1090.41 615.48,1091.04 625.6,1091.68 635.72,1090.61 645.84,1091.25 655.96,1091.89 666.08,1092.51" fill="none" stroke="#ff0000" stroke-width="1.5" stroke-linejoin="round" stroke-dasharray="5.55 2.4"/>
<path d="M423.2 1108.4v2.62M473.8 1108.4v2.62M524.4 1108.4v2.62M575 1108.4v2.62M625.6 1108.4v2.62M676.2 1108.4v2.62M411.2 1101.45h-2.62M411.2 1067.05h-2.62M411.2 1032.65h-2.62M411.2 998.25h-2.62M411.2 963.85h-2.62M411.2 929.45h-2.62" stroke="#000" stroke-width="0.75" fill="none"/>
<rect x="411.2" y="909.2" width="267.5" height="199.2" fill="none" stroke="#000" stroke-width="0.75"/>
<g font-size="7.5">
<text x="423.2" y="1119.8" text-anchor="middle">0</text>
<text x="473.8" y="1119.8" text-anchor="middle">5</text>
<text x="524.4" y="1119.8" text-anchor="middle">10</text>
<text x="575" y="1119.8" text-anchor="middle">15</text>
<text x="625.6" y="1119.8" text-anchor="middle">20</text>
<text x="676.2" y="1119.8" text-anchor="middle">25</text>
<text x="405.65" y="1104.15" text-anchor="end">0</text>
<text x="405.65" y="1069.75" text-anchor="end">2</text>
<text x="405.65" y="1035.35" text-anchor="end">4</text>
<text x="405.65" y="1000.95" text-anchor="end">6</text>
<text x="405.65" y="966.55" text-anchor="end">8</text>
<text x="405.65" y="932.15" text-anchor="end">10</text>
</g>
<text x="544.95" y="1131.2" font-size="9" text-anchor="middle">Epochs</text>
<text transform="translate(391.3 1009.9) rotate(-90)" font-size="9" text-anchor="middle">Loss</text>
<text x="544.45" y="904.8" font-size="10.53" text-anchor="middle">Fold 4 Loss</text>
<rect x="591.8" y="912.7" width="83.2" height="36.4" rx="1.65" fill="#fff" fill-opacity="0.8" stroke="#ccc" stroke-opacity="0.8" stroke-width="0.75"/>
<path d="M595.3 919.3H610.3" stroke="#0000ff" stroke-width="1.5" stroke-linecap="square"/>
<path d="M595.3 930.7H610.3" stroke="#ff0000" stroke-width="1.5" stroke-dasharray="5.55 2.4"/>
<rect x="595.3" y="939.48" width="15" height="5.25" fill="#808080" fill-opacity="0.2"/>
<g font-size="7.5">
<text x="615.7" y="922">Train Loss</text>
<text x="615.7" y="933.4">Validation Loss</text>
<text x="615.7" y="944.8">Gap</text>
</g>
</g>
</g>
<g font-family='"Liberation Serif","DejaVu Serif",serif' font-size="19.6" fill="#000">
<text y="272"><tspan x="64.1">(a)</tspan> <tspan x="95.4">Accuracy</tspan> <tspan x="178">-</tspan> <tspan x="191.7">Fold</tspan> <tspan x="243" text-anchor="end">1</tspan></text>
<text y="272"><tspan x="462.7">(b)</tspan> <tspan x="493.9">Loss</tspan> <tspan x="536.4">-</tspan> <tspan x="549.8">Fold</tspan> <tspan x="601" text-anchor="end">1</tspan></text>
<text y="571.6"><tspan x="64.6">(c)</tspan> <tspan x="94.9">Accuracy</tspan> <tspan x="177.5">-</tspan> <tspan x="191.2">Fold</tspan> <tspan x="242.5" text-anchor="end">2</tspan></text>
<text y="571.6"><tspan x="462.7">(d)</tspan> <tspan x="493.9">Loss</tspan> <tspan x="536.4">-</tspan> <tspan x="549.8">Fold</tspan> <tspan x="601" text-anchor="end">2</tspan></text>
<text y="869.6"><tspan x="64.6">(e)</tspan> <tspan x="94.9">Accuracy</tspan> <tspan x="177.5">-</tspan> <tspan x="191.2">Fold</tspan> <tspan x="242.5" text-anchor="end">3</tspan></text>
<text y="869.6"><tspan x="464">(f)</tspan> <tspan x="492.6">Loss</tspan> <tspan x="535.1">-</tspan> <tspan x="548.5">Fold</tspan> <tspan x="599.7" text-anchor="end">3</tspan></text>
<text y="1166.7"><tspan x="64.1">(g)</tspan> <tspan x="95.4">Accuracy</tspan> <tspan x="178">-</tspan> <tspan x="191.7">Fold</tspan> <tspan x="243" text-anchor="end">4</tspan></text>
<text y="1166.7"><tspan x="462.7">(h)</tspan> <tspan x="493.9">Loss</tspan> <tspan x="536.4">-</tspan> <tspan x="549.8">Fold</tspan> <tspan x="601" text-anchor="end">4</tspan></text>
</g>
</svg>
</body>
</html>
